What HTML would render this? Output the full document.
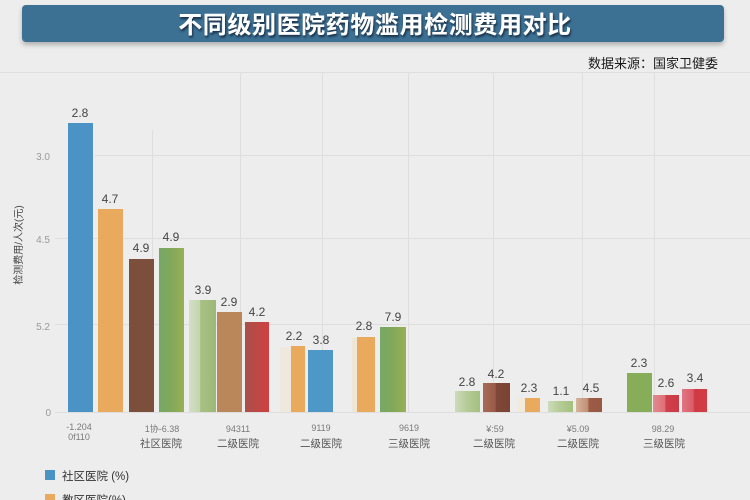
<!DOCTYPE html>
<html><head><meta charset="utf-8"><style>
html,body{margin:0;padding:0;background:#ededed;}
svg{display:block;}
text{font-family:"Liberation Sans","Noto Sans CJK SC",sans-serif;}
</style></head><body>
<svg width="750" height="500" viewBox="0 0 750 500" xmlns="http://www.w3.org/2000/svg">
<defs>
<filter id="sh" x="-5%" y="-20%" width="110%" height="160%"><feDropShadow dx="0" dy="3" stdDeviation="2.5" flood-color="#000" flood-opacity="0.25"/></filter>
<filter id="ts" x="-5%" y="-20%" width="110%" height="160%"><feDropShadow dx="1" dy="2" stdDeviation="1" flood-color="#0d2233" flood-opacity="0.85"/></filter>
<linearGradient id="lg1" x1="0" x2="1"><stop offset="0" stop-color="#d3dfc6"/><stop offset="0.4" stop-color="#c4d5b0"/><stop offset="0.42" stop-color="#a9c184"/><stop offset="1" stop-color="#9cb878"/></linearGradient>
<linearGradient id="lg2" x1="0" x2="1"><stop offset="0" stop-color="#ccdcbc"/><stop offset="0.45" stop-color="#b6cc98"/><stop offset="1" stop-color="#a4c07e"/></linearGradient>
<linearGradient id="gr" x1="0" x2="1"><stop offset="0" stop-color="#76a866"/><stop offset="0.5" stop-color="#82a85a"/><stop offset="1" stop-color="#98b055"/></linearGradient>
<linearGradient id="rd" x1="0" x2="1"><stop offset="0" stop-color="#a8504a"/><stop offset="1" stop-color="#d04040"/></linearGradient>
<linearGradient id="bt" x1="0" x2="1"><stop offset="0" stop-color="#d6b49a"/><stop offset="0.45" stop-color="#c09078"/><stop offset="0.5" stop-color="#9e5c48"/><stop offset="1" stop-color="#985844"/></linearGradient>
<linearGradient id="br2" x1="0" x2="1"><stop offset="0" stop-color="#a86a58"/><stop offset="0.45" stop-color="#9a5a48"/><stop offset="0.5" stop-color="#7e4636"/><stop offset="1" stop-color="#7a4434"/></linearGradient>
<linearGradient id="pk" x1="0" x2="1"><stop offset="0" stop-color="#e08a90"/><stop offset="0.45" stop-color="#e07078"/><stop offset="0.5" stop-color="#d0404c"/><stop offset="1" stop-color="#cc3a44"/></linearGradient>
<linearGradient id="rd2" x1="0" x2="1"><stop offset="0" stop-color="#e07684"/><stop offset="0.45" stop-color="#dc5a66"/><stop offset="0.5" stop-color="#d03a44"/><stop offset="1" stop-color="#d23c44"/></linearGradient>
</defs>

<!-- title -->
<rect x="22" y="5" width="702" height="37" rx="4" fill="#3e7194" filter="url(#sh)"/>
<text x="375" y="33" text-anchor="middle" font-size="24" font-weight="bold" fill="#ffffff" letter-spacing="0.6" filter="url(#ts)">不同级别医院药物滥用检测费用对比</text>
<text x="718" y="68" text-anchor="end" font-size="13" fill="#1a1a1a">数据来源：国家卫健委</text>

<!-- grid -->
<g stroke="#dedede" stroke-width="1">
<line x1="0" y1="72.5" x2="750" y2="72.5"/>
<line x1="95" y1="155.5" x2="750" y2="155.5"/>
<line x1="55" y1="238.5" x2="750" y2="238.5"/>
<line x1="55" y1="324.5" x2="750" y2="324.5"/>
<line x1="55" y1="412.5" x2="750" y2="412.5"/>
<line x1="152.5" y1="130" x2="152.5" y2="412"/>
<line x1="240.5" y1="73" x2="240.5" y2="412"/>
<line x1="322.5" y1="73" x2="322.5" y2="412"/>
<line x1="408.5" y1="73" x2="408.5" y2="412"/>
<line x1="493.5" y1="73" x2="493.5" y2="412"/>
<line x1="582.5" y1="73" x2="582.5" y2="412"/>
<line x1="654.5" y1="73" x2="654.5" y2="412"/>
</g>

<!-- y axis -->
<g font-size="10" fill="#9a9a9a" text-anchor="end">
<text x="50" y="160">3.0</text>
<text x="50" y="243">4.5</text>
<text x="50" y="330">5.2</text>
<text x="51" y="416">0</text>
</g>
<text transform="translate(22,245) rotate(-90)" text-anchor="middle" font-size="10" fill="#444">检测费用/人次(元)</text>

<!-- bars -->
<rect x="68" y="123" width="25" height="289" fill="#4a93c4"/>
<rect x="98" y="209" width="25" height="203" fill="#eaaa5e"/>
<rect x="129" y="259" width="25" height="153" fill="#7c4e3c"/>
<rect x="159" y="248" width="25" height="164" fill="url(#gr)"/>
<rect x="189" y="300" width="27" height="112" fill="url(#lg1)"/>
<rect x="217" y="312" width="25" height="100" fill="#b98759"/>
<rect x="245" y="322" width="24" height="90" fill="url(#rd)"/>
<rect x="280" y="347" width="11" height="65" fill="#efe8dc"/>
<rect x="291" y="346" width="14" height="66" fill="#eaaa5e"/>
<rect x="308" y="350" width="25" height="62" fill="#4e98c8"/>
<rect x="352" y="338" width="5" height="74" fill="#f0e6d6"/>
<rect x="357" y="337" width="18" height="75" fill="#eaaa5e"/>
<rect x="380" y="327" width="26" height="85" fill="url(#gr)"/>
<rect x="455" y="391" width="25" height="21" fill="url(#lg2)"/>
<rect x="483" y="383" width="27" height="29" fill="url(#br2)"/>
<rect x="517" y="398" width="8" height="14" fill="#f2eadb"/>
<rect x="525" y="398" width="15" height="14" fill="#eaaa5e"/>
<rect x="548" y="401" width="25" height="11" fill="url(#lg2)"/>
<rect x="576" y="398" width="26" height="14" fill="url(#bt)"/>
<rect x="627" y="373" width="25" height="39" fill="#88ad58"/>
<rect x="653" y="395" width="26" height="17" fill="url(#pk)"/>
<rect x="682" y="389" width="25" height="23" fill="url(#rd2)"/>

<!-- value labels -->
<g font-size="12" fill="#444" text-anchor="middle">
<text x="80" y="117">2.8</text>
<text x="110" y="203">4.7</text>
<text x="141" y="252">4.9</text>
<text x="171" y="241">4.9</text>
<text x="203" y="294">3.9</text>
<text x="229" y="306">2.9</text>
<text x="257" y="316">4.2</text>
<text x="294" y="340">2.2</text>
<text x="321" y="344">3.8</text>
<text x="364" y="330">2.8</text>
<text x="393" y="321">7.9</text>
<text x="467" y="386">2.8</text>
<text x="496" y="378">4.2</text>
<text x="529" y="392">2.3</text>
<text x="561" y="395">1.1</text>
<text x="591" y="392">4.5</text>
<text x="639" y="367">2.3</text>
<text x="666" y="387">2.6</text>
<text x="695" y="382">3.4</text>
</g>

<!-- small x labels -->
<g font-size="9" fill="#7a7a7a" text-anchor="middle">
<text x="79" y="430">-1.204</text>
<text x="79" y="440">0f110</text>
<text x="162" y="432">1协-6.38</text>
<text x="238" y="432">94311</text>
<text x="321" y="431">9119</text>
<text x="409" y="431">9619</text>
<text x="495" y="432">¥:59</text>
<text x="578" y="432">¥5.09</text>
<text x="663" y="432">98.29</text>
</g>
<g font-size="10.5" fill="#555" text-anchor="middle">
<text x="161" y="447">社区医院</text>
<text x="238" y="447">二级医院</text>
<text x="321" y="447">二级医院</text>
<text x="409" y="447">三级医院</text>
<text x="494" y="447">二级医院</text>
<text x="578" y="447">二级医院</text>
<text x="664" y="447">三级医院</text>
</g>

<!-- legend -->
<rect x="45" y="470" width="10" height="10" fill="#4a93c4"/>
<text x="62" y="480" font-size="11.5" fill="#333">社区医院 (%)</text>
<rect x="45" y="494" width="10" height="10" fill="#eaaa5e"/>
<text x="62" y="504" font-size="11.5" fill="#333">教区医院(%)</text>
</svg>
</body></html>
